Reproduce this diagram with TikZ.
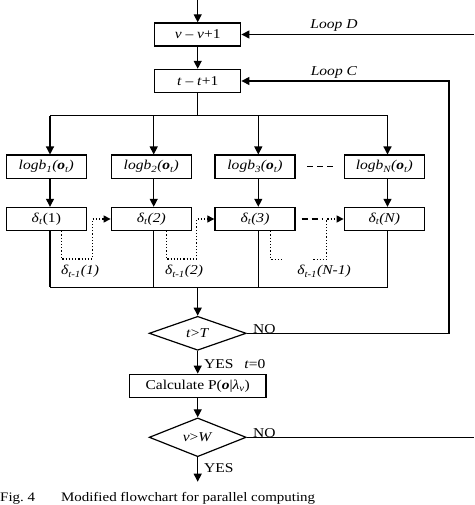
\documentclass[tikz,border=0pt]{standalone}
\usepackage{fontspec}
\setmainfont[FakeStretch=1.15]{Liberation Serif}
\usetikzlibrary{arrows.meta,shapes.geometric}

\tikzset{
  box/.style={draw, line width=1.4pt, minimum width=80pt, minimum height=23pt, inner sep=0pt},
  cond/.style={draw, diamond, line width=1.2pt, minimum width=97pt, minimum height=34pt, inner sep=0pt},
  wire/.style={line width=1.2pt},
  flow/.style={wire, -{Triangle[length=8pt,width=8pt]}},
  dots/.style={dotted, line width=1.2pt, -{Triangle[length=7pt,width=7pt]}},
  gap/.style={line width=1.5pt, dash pattern=on 6pt off 4pt},
}

\begin{document}
\begin{tikzpicture}[x=1pt, y=-1pt, font=\fontsize{13.5}{15}\selectfont]
  \useasboundingbox (0,0) rectangle (474,505);

  % counters
  \coordinate (top) at (197.7,0);
  \node[box, minimum width=86pt] (vinc) at (197.7,34.5) {\textit{v} – \textit{v}+1};
  \node[box, minimum width=86pt] (tinc) at (197.7,81) {\textit{t} – \textit{t}+1};
  \draw[flow] (top) -- (vinc.north);
  \draw[flow] (vinc.south) -- (tinc.north);

  % parallel branches
  \node[box] (lg1) at (46.3,166.7) {\itshape logb\textsubscript{1}(\textbf{o}\textsubscript{t})};
  \node[box] (lg2) at (151.3,166.7) {\itshape logb\textsubscript{2}(\textbf{o}\textsubscript{t})};
  \node[box] (lg3) at (255,166.7) {\itshape logb\textsubscript{3}(\textbf{o}\textsubscript{t})};
  \node[box] (lgN) at (384.3,166.7) {\itshape logb\textsubscript{N}(\textbf{o}\textsubscript{t})};
  \node[box] (d1) at (46.3,219) {\textit{δ}\textsubscript{\textit{t}}(1)};
  \node[box] (d2) at (151.3,219) {\itshape δ\textsubscript{t}(2)};
  \node[box] (d3) at (255,219) {\itshape δ\textsubscript{t}(3)};
  \node[box] (dN) at (384.3,219) {\itshape δ\textsubscript{t}(N)};

  \coordinate (busT) at (197.7,115.7);
  \coordinate (busB) at (197.7,287.3);
  \draw[wire] (tinc.south) -- (busT);
  \foreach \x/\n in {50/1,153.7/2,258.3/3,387.5/N} {
    \coordinate (br\n) at (\x,115.7);
    \draw[flow] (br\n) -- (br\n |- lg\n.north);
    \draw[flow] (br\n |- lg\n.south) -- (br\n |- d\n.north);
    \draw[wire] (br\n |- d\n.south) -- (br\n |- busB);
  }
  \draw[wire] (br1) -- (brN);
  \draw[wire] (br1 |- busB) -- (brN |- busB);
  \draw[gap] (307,166.7) -- (333,166.7);

  % passing delta_{t-1}
  \draw[dots] ([xshift=15pt]d1.south) |- (92.3,259) |- (d2.west);
  \draw[dots] ([xshift=15pt]d2.south) |- (196.7,259) |- (d3.west);
  \coordinate (cut) at (281.7,259.3);
  \coordinate (resume) at (313.3,259.3);
  \draw[dotted, line width=1.2pt] ([xshift=15.7pt]d3.south) |- (cut);
  \draw[dots] (resume) -| (326.7,219) -- (dN.west);
  \draw[gap] (301.7,219) -- (323,219);
  \node (p1) at (80,271.7) {\itshape δ\textsubscript{t-1}(1)};
  \node (p2) at (184,271.7) {\itshape δ\textsubscript{t-1}(2)};
  \node (pN) at (324,271.7) {\itshape δ\textsubscript{t-1}(N-1)};

  % tests
  \node[cond] (tT) at (197.7,333.3) {\textit{t}>\textit{T}};
  \node[box, minimum width=136.7pt] (calc) at (197.7,385.8) {Calculate P(\textbf{\textit{o}}|\textit{λ}\textsubscript{\textit{v}})};
  \node[cond] (vW) at (197.7,437.3) {\textit{v}>\textit{W}};
  \coordinate (out) at (197.7,481.7);
  \coordinate (edgeD) at (474,34.5);
  \coordinate (edgeW) at (474,437.3);
  \coordinate (loopCx) at (449,0);

  \draw[flow] (busB) -- (tT.north);
  \draw[flow] (tT.south) -- (calc.north);
  \draw[flow] (calc.south) -- (vW.north);
  \draw[flow] (vW.south) -- (out);
  \draw[flow] (tT.east) -| (loopCx |- tinc.east) -- (tinc.east);
  \draw[wire] (vW.east) -- (edgeW);
  \draw[flow] (edgeD) -- (vinc.east);

  \node (lD) at (334,26) {\textit{Loop D}};
  \node (lC) at (334,72) {\textit{Loop C}};
  \node[anchor=west, inner sep=0pt] (no1) at (253,329) {NO};
  \node[anchor=west, inner sep=0pt] (no2) at (253,433) {NO};
  \node[anchor=west, inner sep=0pt] (yes1) at (204,364) {YES\hspace{0.8em}\textit{t}=0};
  \node[anchor=west, inner sep=0pt] (yes2) at (204,467.7) {YES};

  \node[anchor=base west, inner sep=0pt, font=\fontsize{13}{15}\selectfont] (cap) at (0,501) {Fig.~4\hspace{2em}Modified flowchart for parallel computing};
\end{tikzpicture}
\end{document}
